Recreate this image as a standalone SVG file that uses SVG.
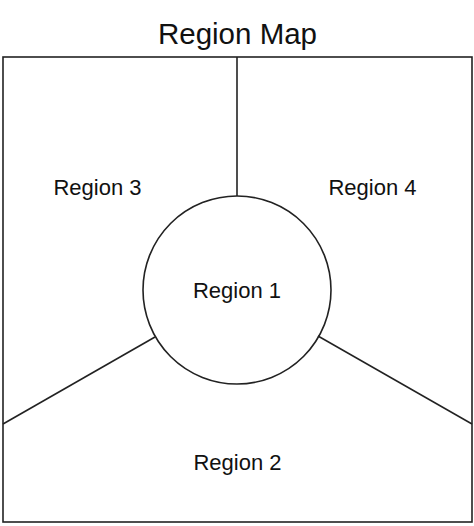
<svg xmlns="http://www.w3.org/2000/svg" width="474" height="526" viewBox="0 0 474 526">
<style>
.ln{stroke:#222;stroke-width:1.6;fill:none}
.lbl{font-family:"Liberation Sans",Arial,sans-serif;font-size:22px;fill:#111;text-anchor:middle}
.ttl{font-family:"Liberation Sans",Arial,sans-serif;font-size:29.5px;fill:#111;text-anchor:middle}
</style>
<rect width="474" height="526" fill="#fff"/>
<text class="ttl" x="237.5" y="44">Region Map</text>
<g id="frame"><rect class="ln" x="3" y="57" width="469" height="465" stroke-width="2"/></g>
<g id="connectors">
<line class="ln" x1="237" y1="57" x2="237" y2="196"/>
<line class="ln" x1="155" y1="337" x2="3" y2="424"/>
<line class="ln" x1="318" y1="336" x2="472" y2="424"/>
</g>
<g id="region1"><circle class="ln" cx="237" cy="290" r="94"/><text class="lbl" x="237" y="298">Region 1</text></g>
<g id="region2"><text class="lbl" x="237.5" y="470">Region 2</text></g>
<g id="region3"><text class="lbl" x="97.5" y="195">Region 3</text></g>
<g id="region4"><text class="lbl" x="372.5" y="195">Region 4</text></g>
</svg>
